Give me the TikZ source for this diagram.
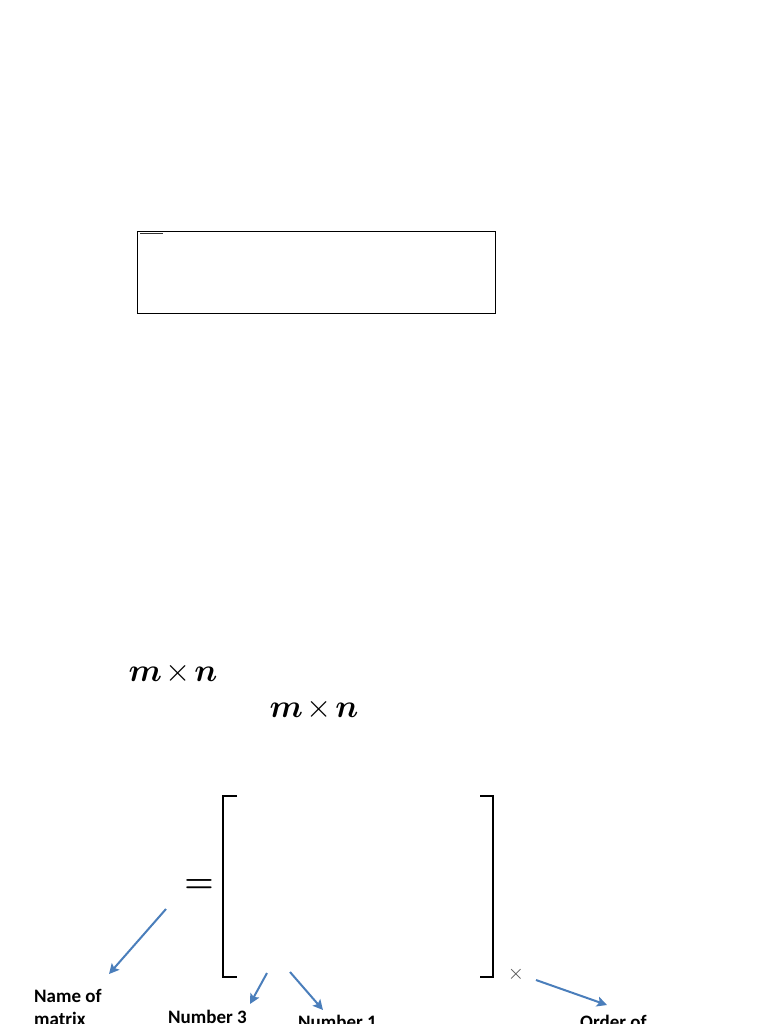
\documentclass[tikz,border=0pt]{standalone}
\usepackage{amsmath,bm}
\usepackage{fontspec}
\setmainfont{Carlito}
\usetikzlibrary{arrows.meta}
\definecolor{arrowblue}{HTML}{4A7EBB}
\tikzset{
  lbl/.style={font=\fontsize{19}{23}\selectfont\bfseries, anchor=north west, align=left, inner sep=0pt},
  blu/.style={draw=arrowblue, line width=2pt, -{Stealth[length=10pt,width=10pt,inset=2pt]}},
  brk/.style={line width=2pt, black},
  mxn/.style={font=\Huge, inner sep=0pt, scale=1.3}
}
\begin{document}
\begin{tikzpicture}[x=1pt,y=-1pt]
\useasboundingbox (0,0) rectangle (768,1024);
\clip (0,0) rectangle (768,1024);
\fill[white] (0,0) rectangle (768,1024);
% empty box
\draw[line width=1pt] (137,232) rectangle (495,313);
\draw[line width=1pt, black!80] (140,233.5) -- (163,233.5);
% m x n labels
\node[mxn] (mn1) at (173,673) {$\bm{m}\mkern-2mu\times\mkern-2mu\bm{n}$};
\node[mxn] (mn2) at (314,709) {$\bm{m}\mkern-2mu\times\mkern-2mu\bm{n}$};
% equals
\node[font=\Huge, inner sep=0pt, scale=1.35] (eq) at (199,886) {$\bm{=}$};
% brackets
\draw[brk] (237,796) -- (223,796) -- (223,977) -- (237,977);
\draw[brk] (480,796) -- (493,796) -- (493,977) -- (480,977);
\node[font=\huge, text=black!70, inner sep=0pt] (x) at (516,974) {$\times$};
% labels
\node[lbl] (name) at (34,989) {Name of\\matrix};
\node[lbl] (n3) at (168,1010) {Number 3};
\node[lbl] (n1) at (298,1015) {Number 1};
\node[lbl] (ord) at (580,1015) {Order of};
% arrows
\coordinate (a1s) at (166,909); \coordinate (a1e) at (109,974);
\coordinate (a2s) at (267,973); \coordinate (a2e) at (250,1004);
\coordinate (a3s) at (290,972); \coordinate (a3e) at (323,1010);
\coordinate (a4s) at (536,980); \coordinate (a4e) at (607,1005);
\draw[blu] (a1s) -- (a1e);
\draw[blu] (a2s) -- (a2e);
\draw[blu] (a3s) -- (a3e);
\draw[blu] (a4s) -- (a4e);
\end{tikzpicture}
\end{document}
